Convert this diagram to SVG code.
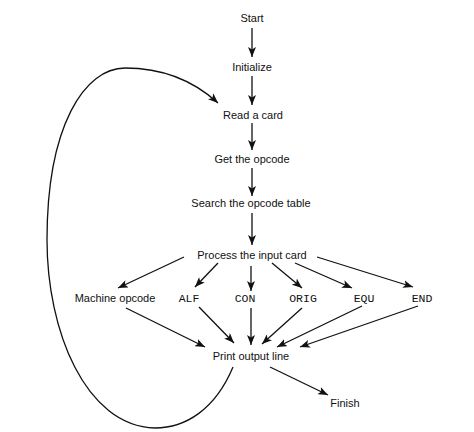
<svg xmlns="http://www.w3.org/2000/svg" width="474" height="432" viewBox="0 0 474 432">
<style>
text{font-family:"Liberation Sans",Arial,sans-serif;font-size:11px;fill:#111;text-anchor:middle;dominant-baseline:central}
text.m{font-family:"Liberation Mono","Courier New",monospace;font-size:11.5px}
.c path,.c line{stroke:#111;stroke-width:1.3;fill:none;marker-end:url(#a)}
</style>
<defs>
<marker id="a" viewBox="0 0 10 8" refX="10" refY="4" markerWidth="10" markerHeight="8" markerUnits="userSpaceOnUse" orient="auto">
<path d="M0,0 L10,4 L0,8 L2.5,4 Z" fill="#111"/>
</marker>
</defs>
<rect width="474" height="432" fill="#fff"/>
<g class="c">
<line x1="252" y1="28" x2="252" y2="57"/>
<line x1="252" y1="76" x2="252" y2="105"/>
<line x1="252" y1="123" x2="252" y2="150"/>
<line x1="252" y1="168" x2="252" y2="196"/>
<line x1="252" y1="213" x2="252" y2="245"/>
<line x1="184" y1="257" x2="118" y2="288"/>
<line x1="218" y1="263" x2="195" y2="287"/>
<line x1="251" y1="266" x2="251" y2="291"/>
<line x1="272" y1="263" x2="302" y2="288"/>
<line x1="295" y1="263" x2="352" y2="288"/>
<line x1="317" y1="257" x2="413" y2="287"/>
<line x1="126" y1="308" x2="205" y2="347"/>
<line x1="199" y1="307" x2="234" y2="343"/>
<line x1="251" y1="308" x2="251" y2="345"/>
<line x1="302" y1="308" x2="262" y2="344"/>
<line x1="362" y1="306" x2="277" y2="347"/>
<line x1="418" y1="306" x2="300" y2="347"/>
<line x1="270" y1="367" x2="328" y2="395"/>
<path d="M233,367 C215,410 185,428 155,428 C85,426 47,330 47,240 C47,125 85,68 125,68 C165,68 195,82 218,103"/>
</g>
<g id="start"><text x="252" y="18">Start</text></g>
<g id="initialize"><text x="252" y="67">Initialize</text></g>
<g id="read"><text x="253" y="115">Read a card</text></g>
<g id="getop"><text x="252" y="159">Get the opcode</text></g>
<g id="search"><text x="251" y="203">Search the opcode table</text></g>
<g id="process"><text x="252" y="255">Process the input card</text></g>
<g id="machine"><text x="115" y="298">Machine opcode</text></g>
<g id="alf"><text class="m" x="189" y="298">ALF</text></g>
<g id="con"><text class="m" x="245" y="298">CON</text></g>
<g id="orig"><text class="m" x="303" y="298">ORIG</text></g>
<g id="equ"><text class="m" x="364" y="298">EQU</text></g>
<g id="end"><text class="m" x="422" y="298">END</text></g>
<g id="print"><text x="251" y="356">Print output line</text></g>
<g id="finish"><text x="345" y="403">Finish</text></g>
</svg>
